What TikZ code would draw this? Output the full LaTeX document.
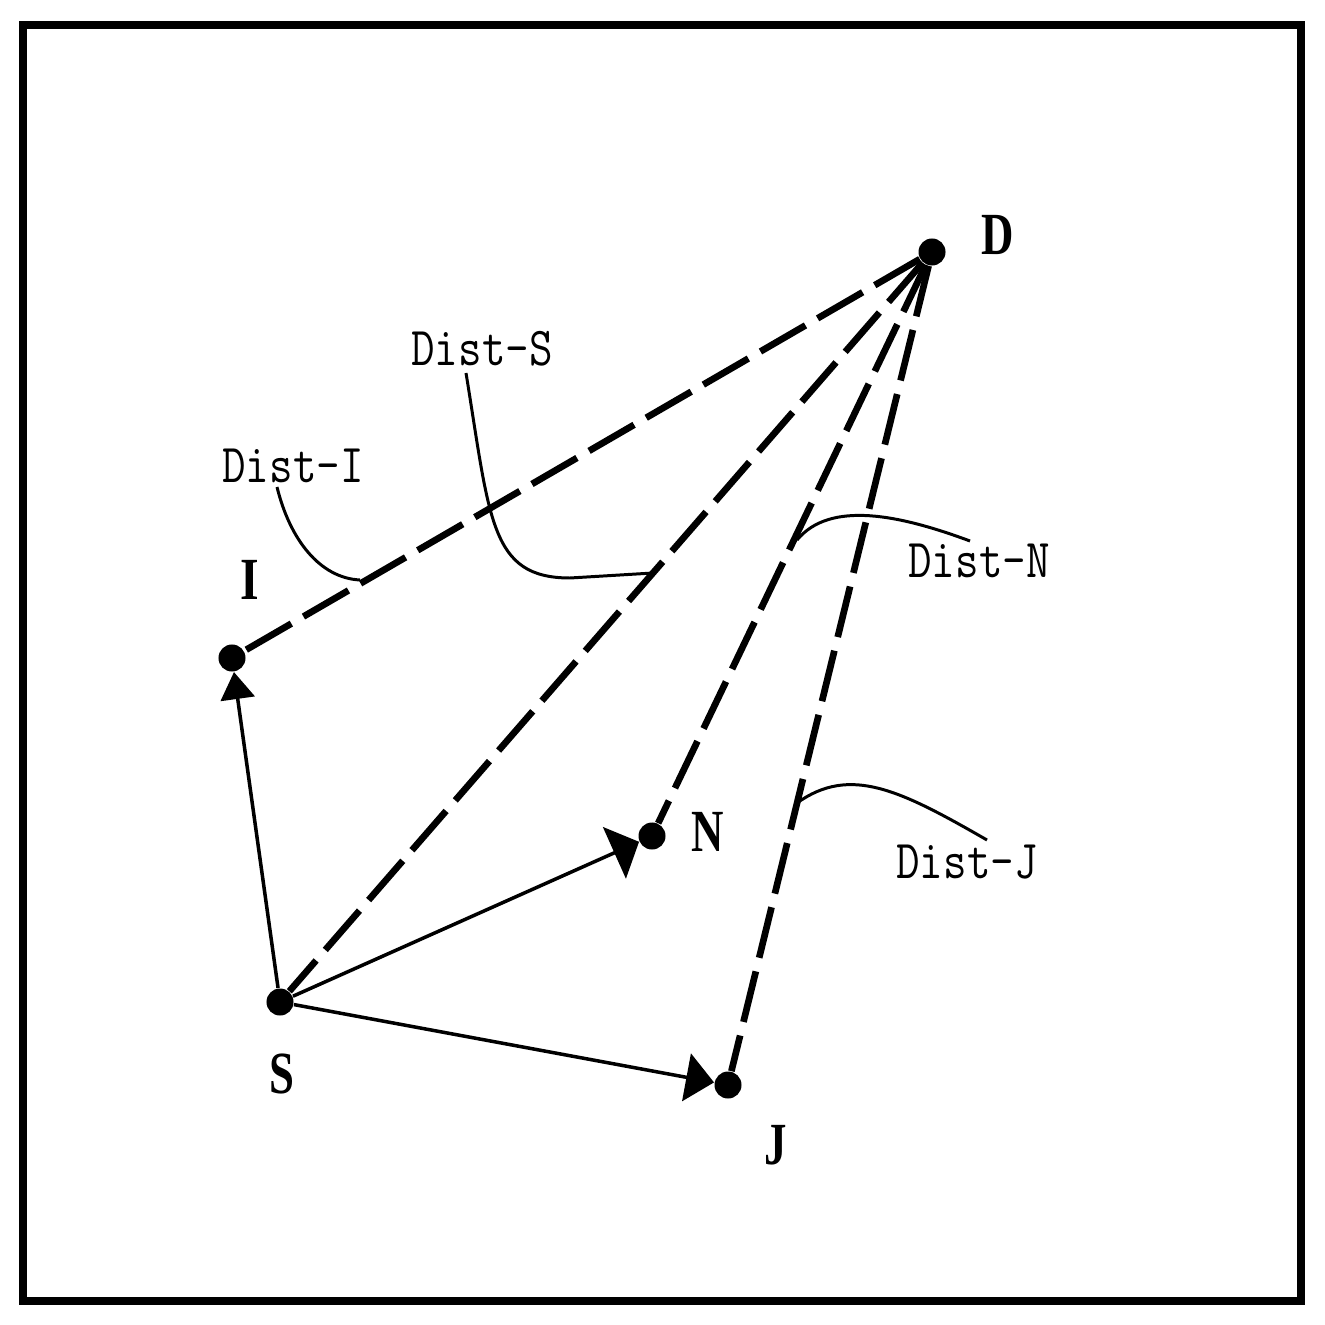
\documentclass[tikz,border=0pt]{standalone}
\usepackage{fontspec}
\newfontfamily\labfont{Liberation Serif}
\usetikzlibrary{arrows.meta}
\begin{document}
\begin{tikzpicture}[x=0.01cm,y=-0.01cm,
  dot/.style={circle,fill=black,inner sep=0pt,minimum size=0.27cm},
  solidarrow/.style={line width=1.0pt,-{Triangle[length=0.28cm,width=0.48cm]}},
  dashline/.style={line width=1.9pt,dash pattern=on 0.52cm off 0.14cm},
  leader/.style={line width=0.85pt},
  ptlabel/.style={font=\labfont\fontsize{17}{17}\selectfont\bfseries,inner sep=0pt},
  distlabel/.style={font=\ttfamily\fontsize{13}{13}\selectfont,inner sep=0pt}
]
\useasboundingbox (0,0) rectangle (1325,1325);
\draw[line width=2.28pt] (23,25.5) rectangle (1301,1300.5);

% points
\node[dot] (D) at (932,252) {};
\node[dot] (I) at (232,658) {};
\node[dot] (S) at (280,1002) {};
\node[dot] (N) at (652,836) {};
\node[dot] (J) at (728,1085) {};

% point labels
\node[ptlabel] (lD) at (998,235) {\scalebox{0.75}[1]{D}};
\node[ptlabel] (lI) at (250,580) {\scalebox{0.8}[1]{I}};
\node[ptlabel] (lS) at (282,1074) {\scalebox{0.75}[1]{S}};
\node[ptlabel] (lN) at (708,832) {\scalebox{0.75}[1]{N}};
\node[ptlabel] (lJ) at (776,1145) {\scalebox{0.75}[1]{J}};

% solid arrows
\draw[solidarrow,-{Triangle[length=0.27cm,width=0.34cm]}] (S) -- (I);
\draw[solidarrow,-{Triangle[length=0.27cm,width=0.56cm]}] (S) -- (N);
\draw[solidarrow] (S) -- (J);

% dashed lines
\draw[dashline] (D) -- (I);
\draw[dashline] (D) -- (S);
\draw[dashline] (D) -- (N);
\draw[dashline] (D) -- (J);

% distance labels
\node[distlabel] (dI) at (293,466) {\scalebox{1}[1.2]{Dist-I}};
\node[distlabel] (dS) at (482,349) {\scalebox{1}[1.2]{Dist-S}};
\node[distlabel] (dN) at (979,561) {\scalebox{1}[1.2]{Dist-N}};
\node[distlabel] (dJ) at (967,862) {\scalebox{1}[1.2]{Dist-J}};

% leader ends
\coordinate (aI) at (277,487);
\coordinate (bI) at (360,580);
\coordinate (aS) at (466,373);
\coordinate (bS) at (653,573);
\coordinate (aN) at (970,541);
\coordinate (bN) at (797,540);
\coordinate (aJ) at (987,840);
\coordinate (bJ) at (797,803);

\draw[leader] (aI) .. controls (290,540) and (320,578) .. (bI);
\draw[leader] (aS) .. controls (490,520) and (490,578) .. (570,578) -- (bS);
\draw[leader] (aN) .. controls (900,515) and (830,500) .. (bN);
\draw[leader] (aJ) .. controls (900,790) and (850,765) .. (bJ);
\end{tikzpicture}
\end{document}
